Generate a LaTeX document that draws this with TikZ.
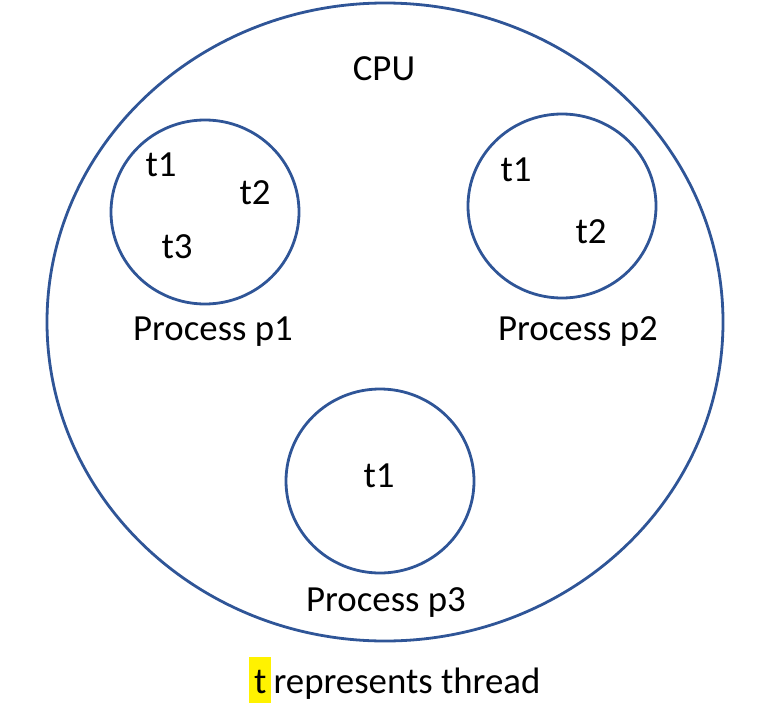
\documentclass[tikz,border=0pt]{standalone}
\usepackage{fontspec}
\setmainfont{Carlito}
\usepackage{tikz}
\usetikzlibrary{shapes.geometric, positioning}
\definecolor{procblue}{HTML}{2F5597}

\begin{document}
\begin{tikzpicture}[x=1pt, y=-1pt,
    every node/.style={font=\fontsize{36.8}{42}\selectfont, inner sep=0pt},
    ring/.style={draw=procblue, line width=2.8pt, ellipse, minimum width=188pt, minimum height=184pt},
    lbl/.style={anchor=base}]
  \useasboundingbox (0,0) rectangle (778,717);
  % CPU boundary
  \node[draw=procblue, line width=2.8pt, ellipse, minimum width=676pt, minimum height=638pt] (cpu) at (385,322) {};
  \node[lbl] (cpulbl) at (384,80) {CPU};
  % Process p1
  \node[ring] (p1) at (205,212) {};
  \node[lbl] (p1t1) at (161,176) {t1};
  \node[lbl] (p1t2) at (255,204) {t2};
  \node[lbl] (p1t3) at (177,258) {t3};
  \node[lbl] (p1lbl) at (213,340) {Process p1};
  % Process p2
  \node[ring] (p2) at (562,206) {};
  \node[lbl] (p2t1) at (516,181) {t1};
  \node[lbl] (p2t2) at (591,243) {t2};
  \node[lbl] (p2lbl) at (578,340) {Process p2};
  % Process p3
  \node[ring] (p3) at (380,481) {};
  \node[lbl] (p3t1) at (379,487) {t1};
  \node[lbl] (p3lbl) at (386,611) {Process p3};
  % Legend
  \node[fill=yellow, anchor=base west, minimum width=22pt, text height=36pt, text depth=10pt] (hl) at (249,693) {t};
  \node[anchor=base west] (legend) at ([xshift=2pt]hl.base east) {represents thread};
\end{tikzpicture}
\end{document}
